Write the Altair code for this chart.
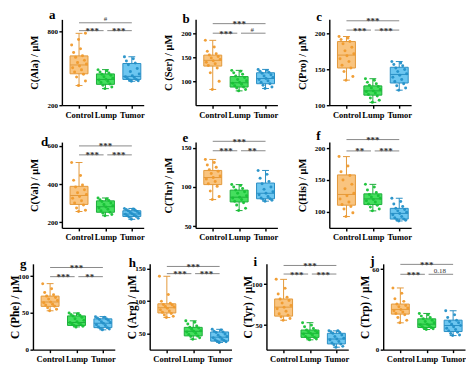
import altair as alt
import pandas as pd

GROUPS = ["Control", "Lump", "Tumor"]
X_LABELS = "['Control','Lump','Tumor'][datum.value]"

ALA_CONTROL = [360, 398, 430, 452, 470, 488, 505, 520, 535, 548, 566, 590, 604, 630, 660, 690, 735, 786]
ALA_LUMP = [335, 348, 362, 372, 385, 396, 405, 412, 420, 432, 445, 452, 462, 470, 480, 490]
ALA_TUMOR = [395, 400, 405, 410, 418, 425, 432, 440, 455, 475, 500, 530, 545, 560, 578, 595]

SER_CONTROL = [83, 100, 118, 128, 133, 137, 140, 143, 146, 149, 152, 155, 158, 163, 172, 186]
SER_LUMP = [80, 83, 86, 88, 91, 94, 96, 98, 101, 104, 108, 111, 115, 118, 121, 123]
SER_TUMOR = [85, 88, 92, 95, 98, 101, 104, 106, 108, 111, 114, 117, 119, 121, 123, 125]

PRO_CONTROL = [135, 140, 147, 152, 156, 161, 165, 169, 172, 176, 181, 186, 189, 192, 194, 196]
PRO_LUMP = [104, 107, 110, 113, 115, 117, 119, 120, 122, 124, 126, 128, 130, 132, 135, 137]
PRO_TUMOR = [121, 124, 127, 130, 133, 136, 139, 142, 144, 147, 150, 152, 155, 157, 159, 161]

VAL_CONTROL = [256, 262, 275, 290, 300, 312, 325, 335, 345, 355, 370, 385, 395, 420, 445, 513]
VAL_LUMP = [234, 240, 247, 252, 260, 268, 275, 280, 286, 293, 300, 308, 314, 318, 322, 327]
VAL_TUMOR = [215, 220, 226, 230, 234, 238, 241, 244, 247, 251, 256, 260, 263, 266, 269, 272]

THR_CONTROL = [84, 88, 95, 101, 104, 107, 110, 112, 114, 117, 120, 122, 125, 128, 131, 135]
THR_LUMP = [70, 73, 77, 80, 82, 84, 86, 87, 89, 92, 94, 96, 98, 100, 102, 103]
THR_TUMOR = [82, 83, 84, 85, 86, 88, 90, 92, 94, 97, 100, 104, 107, 111, 116, 121]

HIS_CONTROL = [92, 98, 104, 108, 111, 115, 120, 125, 129, 136, 143, 150, 157, 163, 172, 187]
HIS_LUMP = [101, 104, 107, 110, 112, 115, 117, 119, 121, 123, 125, 127, 130, 134, 139, 143]
HIS_TUMOR = [85, 86, 87, 88, 90, 92, 95, 97, 99, 101, 103, 105, 108, 112, 116, 121]

PHE_CONTROL = [53, 55, 57, 59, 61, 62, 64, 65, 67, 69, 71, 73, 75, 78, 83, 90]
PHE_LUMP = [31, 32, 33, 34, 35, 36, 37, 38, 40, 42, 44, 46, 47, 48, 49, 50]
PHE_TUMOR = [27, 28, 29, 30, 31, 33, 34, 36, 37, 38, 40, 41, 42, 43, 44, 45]

ARG_CONTROL = [75, 77, 79, 81, 83, 85, 87, 89, 91, 92, 94, 95, 97, 100, 110, 138]
ARG_LUMP = [42, 44, 46, 47, 49, 51, 53, 54, 55, 57, 59, 60, 62, 65, 68, 70]
ARG_TUMOR = [37, 38, 39, 40, 41, 42, 44, 45, 46, 48, 50, 52, 53, 54, 56, 57]

TYR_CONTROL = [56, 58, 60, 62, 64, 67, 70, 72, 74, 77, 80, 82, 84, 88, 95, 106]
TYR_LUMP = [32, 33, 34, 35, 36, 38, 39, 40, 41, 42, 43, 44, 46, 48, 50, 53]
TYR_TUMOR = [23, 24, 26, 27, 28, 30, 32, 33, 34, 36, 38, 40, 41, 42, 43, 43]

TRP_CONTROL = [20, 22, 24, 26, 27, 28, 29, 30, 31, 32, 33, 34, 36, 38, 42, 46]
TRP_LUMP = [15, 15.5, 16, 16.5, 17, 18, 18.5, 19, 20, 21, 22, 23, 24, 25, 26, 27]
TRP_TUMOR = [10.5, 11, 12, 13, 14, 15, 16, 17, 18, 19, 20, 21, 22, 24, 26, 29]

# ---- box summaries per group: min, q1, median, q3, max ----
ALA_STATS = [[360, 456, 528, 602, 786], [335, 370, 410, 455, 490], [395, 410, 435, 540, 595]]
SER_STATS = [[83, 132, 144, 155, 186], [80, 88, 97, 110, 123], [85, 95, 106, 118, 125]]
PRO_STATS = [[135, 152, 170, 189, 196], [104, 114, 120, 127, 137], [121, 131, 143, 153, 161]]
VAL_STATS = [[256, 293, 340, 388, 513], [234, 252, 281, 312, 327], [215, 230, 243, 260, 272]]
THR_STATS = [[84, 103, 112, 121, 135], [70, 81, 87, 96, 103], [82, 85, 92, 105, 121]]
HIS_STATS = [[92, 110, 127, 158, 187], [101, 111, 120, 128, 143], [85, 88, 97, 105, 121]]
PHE_STATS = [[53, 59, 65, 73, 90], [31, 33, 37, 46, 50], [27, 30, 36, 42, 45]]
ARG_STATS = [[75, 82, 90, 96, 138], [42, 47, 54, 60, 70], [37, 39, 45, 53, 57]]
TYR_STATS = [[56, 61, 72, 82, 106], [32, 35, 40, 44, 53], [23, 27, 33, 40, 43]]
TRP_STATS = [[20, 26.5, 30, 34, 46], [15, 16.5, 19, 23, 27], [10.5, 13.5, 18, 22, 29]]

# ---- significance brackets: from group, to group, level, label ----
ALA_SIG = [[0, 2, 872, "#"], [0, 1, 808, "***"], [1, 2, 808, "***"]]
SER_SIG = [[0, 2, 221, "***"], [0, 1, 201, "***"], [1, 2, 201, "#"]]
PRO_SIG = [[0, 2, 218, "***"], [0, 1, 205, "***"], [1, 2, 205, "***"]]
VAL_SIG = [[0, 2, 600, "***"], [0, 1, 553, "***"], [1, 2, 553, "***"]]
THR_SIG = [[0, 2, 158, "***"], [0, 1, 146, "***"], [1, 2, 146, "**"]]
HIS_SIG = [[0, 2, 214, "***"], [0, 1, 196, "**"], [1, 2, 196, "***"]]
PHE_SIG = [[0, 2, 112, "***"], [0, 1, 99.5, "***"], [1, 2, 99.5, "**"]]
ARG_SIG = [[0, 2, 153, "***"], [0, 1, 142, "***"], [1, 2, 142, "***"]]
TYR_SIG = [[0, 2, 123, "***"], [0, 1, 112.5, "***"], [1, 2, 112.5, "***"]]
TRP_SIG = [[0, 2, 63.6, "***"], [0, 1, 56.2, "***"], [1, 2, 56.2, "0.18"]]

# ---- axis ranges and ticks ----
ALA_AXIS = ([200, 900], [200, 400, 600, 800])
SER_AXIS = ([50, 230], [100, 150, 200])
PRO_AXIS = ([100, 220], [100, 150, 200])
VAL_AXIS = ([170, 620], [200, 400, 600])
THR_AXIS = ([48, 157], [50, 100, 150])
HIS_AXIS = ([74, 210], [100, 150, 200])
PHE_AXIS = ([0, 117], [0, 50, 100])
ARG_AXIS = ([26, 157], [50, 100, 150])
TYR_AXIS = ([20, 125], [50, 100])
TRP_AXIS = ([0, 64], [0, 20, 40, 60])

FILL = ["#f9c47f", "#45df5e", "#6cc6f0"]
STROKE = ["#e39a3c", "#1fae3c", "#2b8fc4"]
POINT = ["#f09a2c", "#17c236", "#2390c8"]
SERIF = "Liberation Serif"


def panel(letter, ytitle, axis, stats, points, sig, ext=15, tpad=7, tsize=10.5,
          w=82, h=86, ldx=-13):
    ydom, yticks = axis
    box = pd.DataFrame({
        "idx": [0, 1, 2], "g": GROUPS,
        "mn": [s[0] for s in stats], "q1": [s[1] for s in stats],
        "md": [s[2] for s in stats], "q3": [s[3] for s in stats],
        "mx": [s[4] for s in stats],
    })
    rows = []
    for i, vals in enumerate(points):
        for v in vals:
            rows.append({"idx": i, "g": GROUPS[i], "v": v})
    pdf = pd.DataFrame(rows)
    sdf = pd.DataFrame(sig, columns=["a", "b", "y", "lab"])

    xs = alt.Scale(domain=[-0.65, 2.45], nice=False, zero=False)
    ys = alt.Scale(domain=ydom, nice=False, zero=False)
    xax = alt.Axis(values=[0, 1, 2], labelExpr=X_LABELS, title=None, labelFontSize=8.5,
                   labelPadding=2, labelOverlap=False, labelFlush=False)
    yax = alt.Axis(values=yticks, title=ytitle, labelFontSize=7, titleFontSize=tsize,
                   minExtent=ext, maxExtent=ext, titlePadding=tpad, labelPadding=1.5,
                   labelOverlap=False, labelFlush=False)
    stroke = alt.Stroke("g:N", scale=alt.Scale(domain=GROUPS, range=STROKE), legend=None)

    base = alt.Chart(box).transform_calculate(
        lo="datum.idx - 0.34", hi="datum.idx + 0.34",
        clo="datum.idx - 0.13", chi="datum.idx + 0.13")
    whisk = base.mark_rule(strokeWidth=1).encode(
        x=alt.X("idx:Q", scale=xs, axis=xax),
        y=alt.Y("mn:Q", scale=ys, axis=yax), y2="mx:Q", stroke=stroke)
    cap_lo = base.mark_rule(strokeWidth=1).encode(x="clo:Q", x2="chi:Q", y="mn:Q", stroke=stroke)
    cap_hi = base.mark_rule(strokeWidth=1).encode(x="clo:Q", x2="chi:Q", y="mx:Q", stroke=stroke)
    boxm = base.mark_bar(strokeWidth=1).encode(
        x="lo:Q", x2="hi:Q", y="q1:Q", y2="q3:Q",
        fill=alt.Fill("g:N", scale=alt.Scale(domain=GROUPS, range=FILL), legend=None),
        stroke=stroke)
    med = base.mark_rule(strokeWidth=1).encode(x="lo:Q", x2="hi:Q", y="md:Q", stroke=stroke)
    pts = alt.Chart(pdf).transform_window(
        k="row_number()", groupby=["idx"]
    ).transform_calculate(
        xj="datum.idx + (((datum.k * 7) % 16) / 15 - 0.5) * 0.56"
    ).mark_circle(size=9, opacity=0.95).encode(
        x="xj:Q", y="v:Q",
        color=alt.Color("g:N", scale=alt.Scale(domain=GROUPS, range=POINT), legend=None))
    sg = alt.Chart(sdf).transform_calculate(
        a2="datum.a + (datum.a == 1 ? 0.07 : 0)",
        b2="datum.b - (datum.b == 1 ? 0.07 : 0)",
        m="(datum.a + datum.b) / 2")
    sline = sg.mark_rule(stroke="#8a8a8a", strokeWidth=1).encode(x="a2:Q", x2="b2:Q", y="y:Q")
    stars = sg.transform_filter("indexof(datum.lab, '*') >= 0").mark_text(
        font=SERIF, fontSize=9, fontWeight="bold", baseline="alphabetic", dy=3.5, color="#333333"
    ).encode(x="m:Q", y="y:Q", text="lab:N")
    other = sg.transform_filter("indexof(datum.lab, '*') < 0").mark_text(
        font=SERIF, fontSize=7, baseline="alphabetic", dy=-1.5, color="#333333"
    ).encode(x="m:Q", y="y:Q", text="lab:N")
    return alt.layer(whisk, cap_lo, cap_hi, boxm, med, pts, sline, stars, other).properties(
        width=w, height=h,
        title=alt.TitleParams(letter, anchor="start", frame="group", dx=ldx, fontSize=13,
                              font=SERIF, fontWeight="bold", offset=-7))


def spacer(w):
    # empty, invisible cell that only reserves horizontal room at the start of a row
    return alt.Chart(pd.DataFrame({"z": [0]})).mark_rule(opacity=0, strokeWidth=0.1).encode(
        x=alt.value(0), x2=alt.value(w), y=alt.value(0.5)).properties(width=w, height=1)


row1 = alt.hconcat(
    spacer(22),
    alt.hconcat(
        panel("a", "C(Ala) / μM", ALA_AXIS, ALA_STATS, [ALA_CONTROL, ALA_LUMP, ALA_TUMOR], ALA_SIG),
        panel("b", "C (Ser) / μM", SER_AXIS, SER_STATS, [SER_CONTROL, SER_LUMP, SER_TUMOR], SER_SIG),
        panel("c", "C(Pro) / μM", PRO_AXIS, PRO_STATS, [PRO_CONTROL, PRO_LUMP, PRO_TUMOR], PRO_SIG),
        spacing=19),
    spacing=0)
row2 = alt.hconcat(
    spacer(22),
    alt.hconcat(
        panel("d", "C(Val) / μM", VAL_AXIS, VAL_STATS, [VAL_CONTROL, VAL_LUMP, VAL_TUMOR], VAL_SIG, ldx=-21),
        panel("e", "C(Thr) / μM", THR_AXIS, THR_STATS, [THR_CONTROL, THR_LUMP, THR_TUMOR], THR_SIG),
        panel("f", "C(His) / μM", HIS_AXIS, HIS_STATS, [HIS_CONTROL, HIS_LUMP, HIS_TUMOR], HIS_SIG),
        spacing=19),
    spacing=0)
row3 = alt.hconcat(
    spacer(1),
    alt.hconcat(
        panel("g", "C (Phe) / μM", PHE_AXIS, PHE_STATS, [PHE_CONTROL, PHE_LUMP, PHE_TUMOR], PHE_SIG, ext=11, tpad=1.5, tsize=11.5),
        panel("h", "C (Arg) / μM", ARG_AXIS, ARG_STATS, [ARG_CONTROL, ARG_LUMP, ARG_TUMOR], ARG_SIG, ext=11, tpad=1.5, tsize=11.5, ldx=-21),
        panel("i", "C (Tyr) / μM", TYR_AXIS, TYR_STATS, [TYR_CONTROL, TYR_LUMP, TYR_TUMOR], TYR_SIG, ext=11, tpad=1.5, tsize=11.5),
        panel("j", "C (Trp) / μM", TRP_AXIS, TRP_STATS, [TRP_CONTROL, TRP_LUMP, TRP_TUMOR], TRP_SIG, ext=11, tpad=1.5, tsize=11.5),
        spacing=10),
    spacing=0)

chart = alt.vconcat(
    row1, alt.vconcat(row2, row3, spacing=13), spacing=10
).properties(padding=0).configure_view(
    stroke=None
).configure_axis(
    grid=False, domainColor="black", domainWidth=1.4, tickColor="black", tickWidth=1.4,
    tickSize=3, labelFont=SERIF, labelFontWeight="bold", labelColor="black",
    titleFont=SERIF, titleFontWeight="bold", titleColor="black"
)

chart.save("out.html", embed_options={"renderer": "svg", "actions": False})
